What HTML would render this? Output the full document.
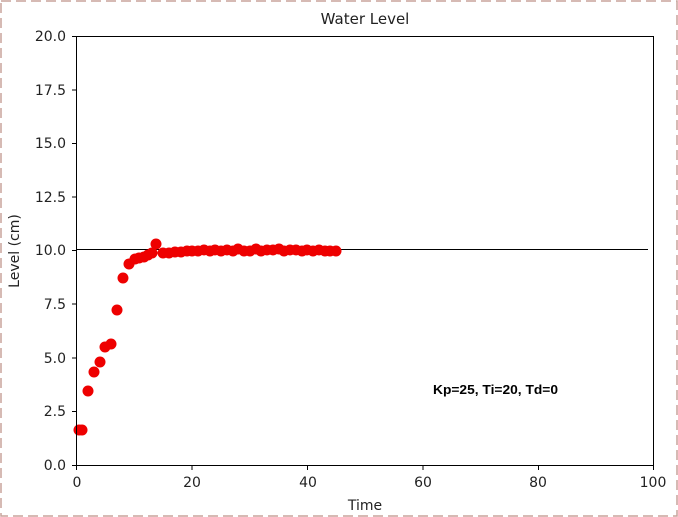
<!DOCTYPE html>
<html><head><style>body{margin:0;background:#fff}svg{display:block}</style></head><body>
<svg width="678" height="517" xmlns="http://www.w3.org/2000/svg" font-family="'DejaVu Sans','Liberation Sans',sans-serif">
<rect x="1" y="1" width="676" height="515" fill="none" stroke="#c9a39c" stroke-width="1.5" stroke-dasharray="10,5"/>
<text x="365" y="24" font-size="15" text-anchor="middle" fill="#222">Water Level</text>
<line x1="76" y1="249.5" x2="648" y2="249.5" stroke="#000" stroke-width="1"/>
<g fill="#ee0000">
<circle cx="79" cy="430" r="5.5"/><circle cx="82" cy="430" r="5.5"/><circle cx="88" cy="391" r="5.5"/><circle cx="94" cy="372" r="5.5"/><circle cx="100" cy="362" r="5.5"/><circle cx="105" cy="347" r="5.5"/><circle cx="111" cy="344" r="5.5"/><circle cx="117" cy="310" r="5.5"/><circle cx="123" cy="278" r="5.5"/><circle cx="129" cy="264" r="5.5"/><circle cx="135" cy="259" r="5.5"/><circle cx="139" cy="258" r="5.5"/><circle cx="144" cy="257" r="5.5"/><circle cx="148" cy="255" r="5.5"/><circle cx="152" cy="253" r="5.5"/><circle cx="156" cy="244" r="5.5"/>
<circle cx="163" cy="253" r="5.5"/><circle cx="169" cy="253" r="5.5"/><circle cx="175" cy="252" r="5.5"/><circle cx="181" cy="252" r="5.5"/><circle cx="187" cy="251" r="5.5"/><circle cx="192" cy="251" r="5.5"/><circle cx="198" cy="251" r="5.5"/><circle cx="204" cy="250" r="5.5"/><circle cx="210" cy="251" r="5.5"/><circle cx="215" cy="250" r="5.5"/><circle cx="221" cy="251" r="5.5"/><circle cx="227" cy="250" r="5.5"/><circle cx="233" cy="251" r="5.5"/><circle cx="238" cy="249" r="5.5"/><circle cx="244" cy="251" r="5.5"/><circle cx="250" cy="251" r="5.5"/><circle cx="256" cy="249" r="5.5"/><circle cx="261" cy="251" r="5.5"/><circle cx="267" cy="250" r="5.5"/><circle cx="273" cy="250" r="5.5"/><circle cx="279" cy="249" r="5.5"/><circle cx="284" cy="251" r="5.5"/><circle cx="290" cy="250" r="5.5"/><circle cx="296" cy="250" r="5.5"/><circle cx="302" cy="251" r="5.5"/><circle cx="307" cy="250" r="5.5"/><circle cx="313" cy="251" r="5.5"/><circle cx="319" cy="250" r="5.5"/><circle cx="325" cy="251" r="5.5"/><circle cx="330" cy="251" r="5.5"/><circle cx="336" cy="251" r="5.5"/>
</g>
<rect x="76.5" y="36.5" width="577" height="429" fill="none" stroke="#000" stroke-width="1"/>
<g stroke="#000" stroke-width="1">
<line x1="72" y1="36.5" x2="76" y2="36.5"/><line x1="72" y1="90" x2="76" y2="90"/><line x1="72" y1="143.5" x2="76" y2="143.5"/><line x1="72" y1="197" x2="76" y2="197"/><line x1="72" y1="250.5" x2="76" y2="250.5"/><line x1="72" y1="304" x2="76" y2="304"/><line x1="72" y1="358" x2="76" y2="358"/><line x1="72" y1="411.5" x2="76" y2="411.5"/><line x1="72" y1="465.5" x2="76" y2="465.5"/>
<line x1="76.5" y1="466" x2="76.5" y2="470"/><line x1="192" y1="466" x2="192" y2="470"/><line x1="307.5" y1="466" x2="307.5" y2="470"/><line x1="423" y1="466" x2="423" y2="470"/><line x1="538.5" y1="466" x2="538.5" y2="470"/><line x1="653.5" y1="466" x2="653.5" y2="470"/>
</g>
<g font-size="14" fill="#222" text-anchor="end">
<text x="66" y="41">20.0</text><text x="66" y="95">17.5</text><text x="66" y="148">15.0</text><text x="66" y="202">12.5</text><text x="66" y="255">10.0</text><text x="66" y="309">7.5</text><text x="66" y="363">5.0</text><text x="66" y="416">2.5</text><text x="66" y="470">0.0</text>
</g>
<g font-size="14" fill="#222" text-anchor="middle">
<text x="77" y="487">0</text><text x="192" y="487">20</text><text x="308" y="487">40</text><text x="423" y="487">60</text><text x="538" y="487">80</text><text x="653" y="487">100</text>
<text x="365" y="510">Time</text>
</g>
<text transform="translate(19,251) rotate(-90)" font-size="14" fill="#222" text-anchor="middle">Level (cm)</text>
<text x="433" y="394" font-size="13" font-weight="bold" font-family="'Liberation Sans',sans-serif" fill="#000" textLength="125" lengthAdjust="spacingAndGlyphs">Kp=25, Ti=20, Td=0</text>
</svg>
</body></html>
